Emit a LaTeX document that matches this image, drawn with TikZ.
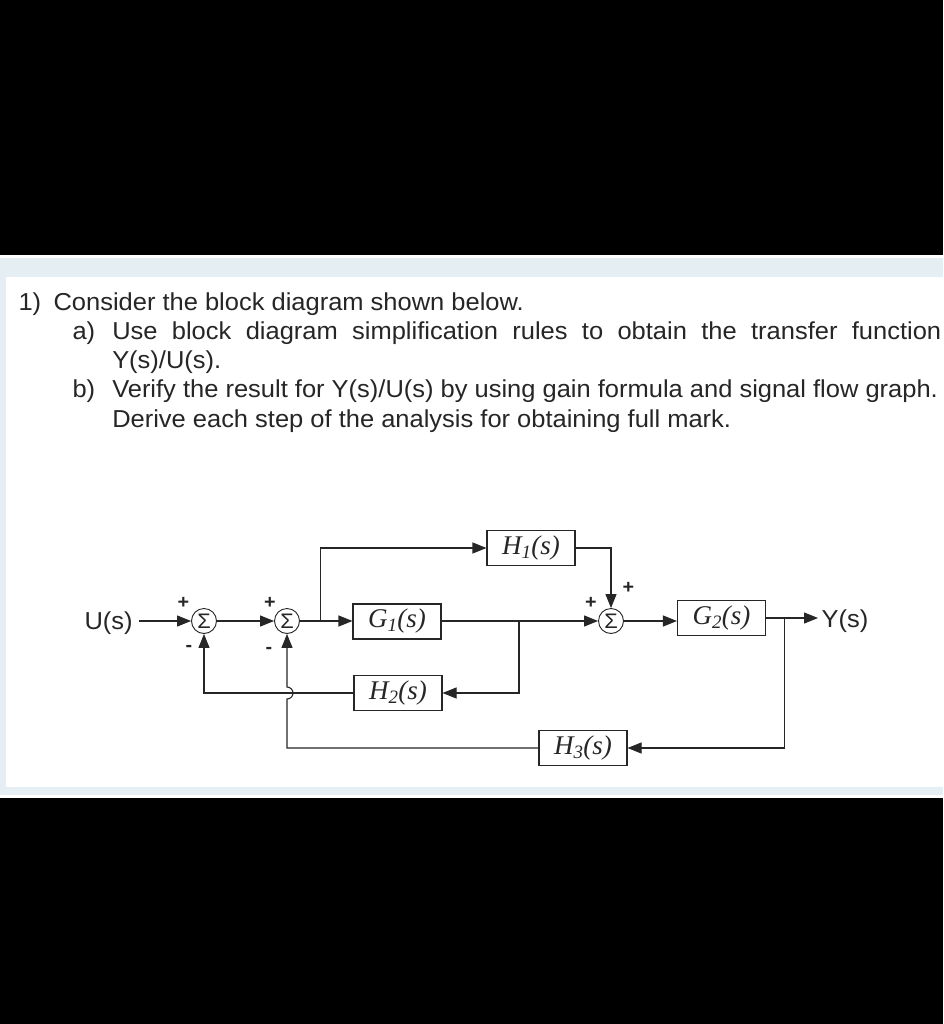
\documentclass[tikz,border=0pt]{standalone}
\usepackage{fontspec}
\setmainfont{Liberation Sans}[FakeStretch = 1.04]
\newfontfamily\timesfont{Liberation Serif}
\usetikzlibrary{arrows.meta}

\definecolor{ink}{HTML}{262626}
\definecolor{bandblue}{HTML}{E5EEF2}
\newcommand\blockfont{\timesfont\itshape\fontsize{27}{27}\selectfont}

\begin{document}
\begin{tikzpicture}[x = 1pt, y = -1pt, line width = 1.1pt, draw = ink, text = ink,
	block/.style = {draw, rectangle, minimum width = 88pt, minimum height = 35pt, inner sep = 0pt, font = \blockfont},
	sumnode/.style = {draw, circle, line width = 0.9pt, minimum size = 25pt, inner sep = 0pt, font = \fontsize{21}{21}\selectfont},
	sign/.style = {inner sep = 0pt, font = \bfseries\fontsize{19}{19}\selectfont},
	arr/.style = {-{Triangle[length = 14pt, width = 11pt]}},
	txt/.style = {anchor = base west, inner sep = 0pt, font = \fontsize{24.5}{24.5}\selectfont}]
	\useasboundingbox (0, 0) rectangle (943, 1024);
	\fill[black] (0, 0) rectangle (943, 1024);
	\fill[white] (0, 255) rectangle (943, 798);
	\fill[bandblue] (0, 258) rectangle (943, 795);
	\fill[white] (6, 277) rectangle (943, 787);

	% question text
	\node[txt] (q1) at (18, 310){1)};
	\node[txt] (q1t) at (53, 310){Consider the block diagram shown below.};
	\node[txt] (qa) at (72, 339.3){a)};
	\node[txt] (qat) at (111.7, 339.3){\makebox[829pt][s]{Use block diagram simplification rules to obtain the transfer function}};
	\node[txt] (qa2) at (111.7, 368.5){Y(s)/U(s).};
	\node[txt] (qb) at (72, 397.8){b)};
	\node[txt] (qbt) at (111.7, 397.8){Verify the result for Y(s)/U(s) by using gain formula and signal flow graph.};
	\node[txt] (qb2) at (111.7, 427){Derive each step of the analysis for obtaining full mark.};

	% block diagram
	\node[txt, anchor = west] (u) at (84, 623){U(s)};
	\node[sumnode] (s1) at (204, 621){Σ};
	\node[sumnode] (s2) at (287, 621){Σ};
	\node[sumnode] (s3) at (611, 621){Σ};
	\node[block] (g1) at (397, 621.5){G\textsubscript{1}(s)};
	\node[block] (h1) at (531, 548){H\textsubscript{1}(s)};
	\node[block] (h2) at (398, 693){H\textsubscript{2}(s)};
	\node[block] (g2) at (721.5, 618){G\textsubscript{2}(s)};
	\node[block] (h3) at (583, 748){H\textsubscript{3}(s)};
	\node[txt, anchor = west, inner xsep = 3pt] (y) at (818, 621){Y(s)};

	\node[sign] (p1) at (183.5, 603){+};
	\node[sign] (m1) at (189, 648){-};
	\node[sign] (p2) at (270, 603){+};
	\node[sign] (m2) at (269, 650){-};
	\node[sign] (p3) at (591, 603){+};
	\node[sign] (p4) at (628.5, 588){+};

	\coordinate (b1) at (320.5, 621);
	\coordinate (b2) at (519, 621);
	\coordinate (b3) at (784.5, 618);

	\draw[arr] ([xshift = 6pt]u.east |- s1.west) -- (s1.west);
	\draw[arr] (s1.east) -- (s2.west);
	\draw[arr] (s2.east) -- (s2.east -| g1.west);
	\draw[arr] (b1) |- (h1.west);
	\draw[arr] (h1.east) -| (s3.north);
	\draw[arr] (g1.east |- s3.west) -- (s3.west);
	\draw[arr] (b2) |- (h2.east);
	\draw[arr] (h2.west) -| (s1.south);
	\draw[arr] (s3.east) -- (s3.east -| g2.west);
	\draw[arr] (g2.east) -- (g2.east -| y.west);
	\draw[arr] (b3) |- (h3.east);
	\draw[arr] (h3.west) -| ([yshift = -6pt]s2.south |- h2.west) arc[start angle = -90, end angle = 90, radius = 6pt] -- (s2.south);
\end{tikzpicture}
\end{document}
